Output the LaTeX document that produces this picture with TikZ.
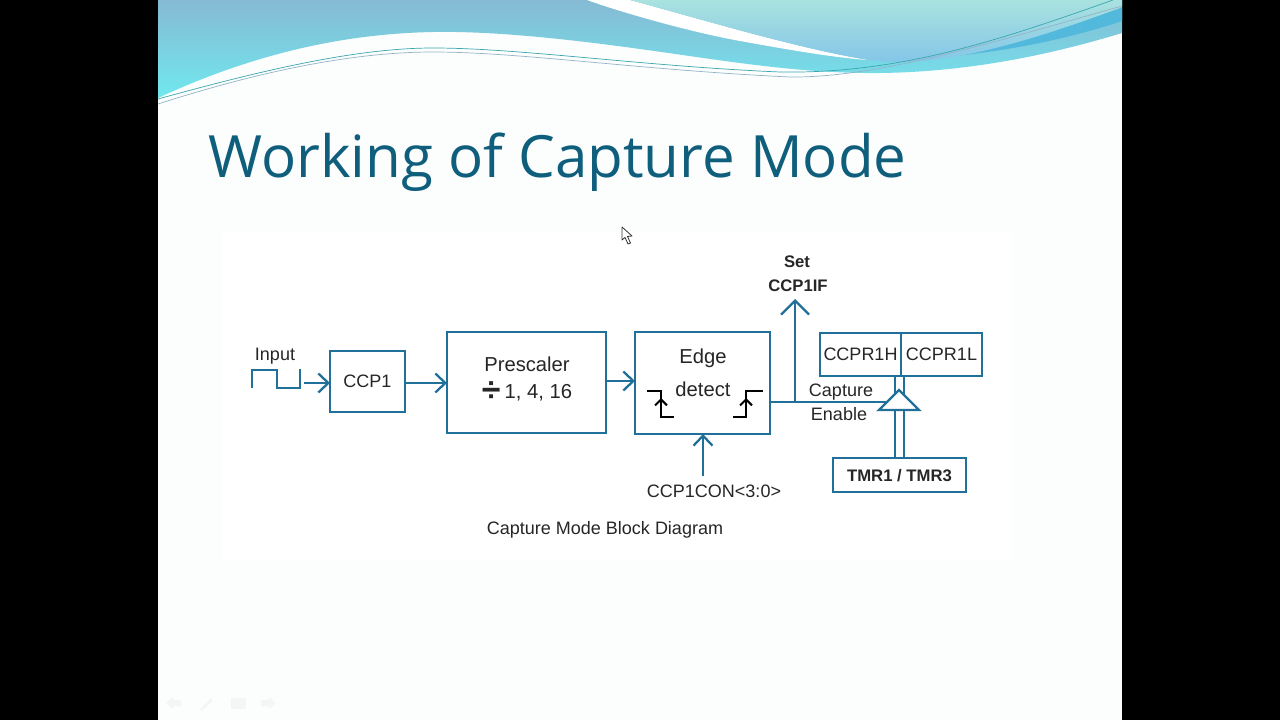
\documentclass[tikz,border=0pt]{standalone}
\usepackage{fontspec}
\setmainfont{Liberation Sans}
\newfontfamily\titlefont{Open Sans}
\usetikzlibrary{arrows.meta}
\definecolor{wireblue}{HTML}{20709A}
\definecolor{inkgrey}{HTML}{262626}
\definecolor{titleblue}{HTML}{0F5F7C}
\definecolor{slidewhite}{HTML}{FCFDFD}
\definecolor{swooshtop}{HTML}{86BAD4}
\definecolor{swooshlow}{HTML}{70E8EE}
\definecolor{capetop}{HTML}{A9E2DF}
\definecolor{capelow}{HTML}{84C6E8}
\definecolor{bandblue}{HTML}{52B9DC}
\definecolor{tealline}{HTML}{3AA6AE}
\definecolor{steelline}{HTML}{93B4C6}
\tikzset{
  blockbox/.style={draw=wireblue, line width=2.3pt, inner sep=0pt, outer sep=0pt, text=inkgrey, font=\fontsize{18}{21}\selectfont},
  plaintext/.style={inner sep=0pt, text=inkgrey, font=\fontsize{18}{21}\selectfont},
  boldtext/.style={inner sep=0pt, text=inkgrey, font=\fontsize{16.7}{20}\selectfont\bfseries},
  wire/.style={wireblue, line width=2.3pt},
  flow/.style={wire, -{Straight Barb[length=10pt, width=19pt, line width=2.3pt]}},
  bigflow/.style={wire, -{Straight Barb[length=14pt, width=28pt, line width=2.3pt]}},
  edgemark/.style={black, line width=2pt},
  edgeflow/.style={edgemark, -{Straight Barb[length=6pt, width=12pt, line width=2pt]}},
  navicon/.style={fill=black!4, draw=none}
}
\begin{document}
\begin{tikzpicture}[x=1pt, y=-1pt]
\useasboundingbox (0,0) rectangle (1280,720);
\fill[black] (0,0) rectangle (1280,720);
\fill[slidewhite] (158,0) rectangle (1122,720);
\fill[white] (222,232) rectangle (1012,560);
% header
\shade[top color=swooshtop, bottom color=swooshlow] (158,0) -- (1122,0) -- (1122,33)
  .. controls (1040,58) and (960,72) .. (880,73) .. controls (800,74) and (720,60) .. (640,49)
  .. controls (560,38) and (490,31) .. (433,32) .. controls (330,34) and (240,60) .. (158,98) -- cycle;
\fill[white] (587,0) .. controls (620,12) and (690,32) .. (740,41) .. controls (790,50) and (830,57) .. (867,60)
  -- (857,58) .. controls (790,46) and (700,19) .. (630,0) -- cycle;
\fill[bandblue] (880,61) .. controls (980,58) and (1060,28) .. (1122,8) -- (1122,21)
  .. controls (1050,45) and (970,58) .. (880,61) -- cycle;
\shade[top color=capetop, bottom color=capelow] (630,0) -- (1122,0) -- (1122,7)
  .. controls (1040,38) and (960,62) .. (900,62) .. controls (885,62) and (870,60) .. (857,58)
  .. controls (790,46) and (700,19) .. (630,0) -- cycle;
\draw[tealline, line width=0.7pt] (158,99) .. controls (270,68) and (360,48) .. (433,48)
  .. controls (520,48) and (640,66) .. (780,72) .. controls (900,74) and (1000,40) .. (1113,0);
\draw[steelline, line width=0.7pt] (158,104) .. controls (270,68) and (360,52) .. (433,52)
  .. controls (520,52) and (640,70) .. (790,77) .. controls (880,78) and (1000,40) .. (1122,6);
% title
\node[text=titleblue, inner sep=0pt, anchor=base west, font=\titlefont\fontsize{58.3}{60}\selectfont] (slidetitle) at (208,177) {Working of Capture Mode};
% blocks
\node[blockbox, minimum width=75pt, minimum height=61pt] (ccp1) at (367.5,381.5) {CCP1};
\node[blockbox, minimum width=159pt, minimum height=101pt] (prescaler) at (526.5,382.5) {};
\node[blockbox, minimum width=135pt, minimum height=102pt] (edgebox) at (702.5,383) {};
\node[blockbox, minimum width=81pt, minimum height=43pt] (ccprh) at (860.5,354.5) {CCPR1H};
\node[blockbox, minimum width=81pt, minimum height=43pt] (ccprl) at (941.5,354.5) {CCPR1L};
\node[blockbox, minimum width=133pt, minimum height=34pt, text depth=0pt, font=\fontsize{16.7}{20}\selectfont\bfseries] (tmr) at (899.5,475) {TMR1 / TMR3};
% labels
\node[plaintext] (inputlabel) at (275,356.5) {Input};
\node[plaintext, font=\fontsize{20.2}{24}\selectfont] (prelabel) at (527,364) {Prescaler};
\node[plaintext, anchor=base, font=\fontsize{20.2}{24}\selectfont] (divlabel) at (527,398) {{\fontsize{34}{24}\selectfont\bfseries\raisebox{-3pt}{÷}}\hspace{4pt}1, 4, 16};
\node[plaintext, font=\fontsize{20.2}{24}\selectfont] (edgelabel) at (703,358) {Edge};
\node[plaintext, font=\fontsize{20.2}{24}\selectfont] (detectlabel) at (703,389) {detect};
\node[boldtext] (setlabel) at (797,261.5) {Set};
\node[boldtext] (iflabel) at (798,285.5) {CCP1IF};
\node[plaintext] (capturelabel) at (841,392.5) {Capture};
\node[plaintext] (enablelabel) at (839,414.5) {Enable};
\node[plaintext] (conlabel) at (714,491) {CCP1CON<3:0>};
\node[plaintext] (captionlabel) at (605,530) {Capture Mode Block Diagram};
% free ends
\coordinate (inputend) at (304,383);
\coordinate (edgein) at (620,381);
\coordinate (conend) at (703,476);
\coordinate (setjoin) at (795,402);
\coordinate (setend) at (795,299);
\coordinate (gatetop) at (899,390);
\coordinate (gateleft) at (879,410);
\coordinate (gateright) at (919,410);
\coordinate (gatein) at (886,402);
% connectors
\draw[flow] (inputend) -- (ccp1.west |- inputend);
\draw[flow] (ccp1.east |- inputend) -- (prescaler.west |- inputend);
\draw[flow] (prescaler.east |- edgein) -- (edgebox.west |- edgein);
\draw[flow] (conend) -- (edgebox.south -| conend);
\draw[wire] (edgebox.east |- gatein) -- (gatein);
\draw[bigflow] (setjoin) -- (setend);
\foreach \lineoff in {-4.5,4.5}
  \draw[wire] ([xshift=\lineoff]tmr.north) -- ([xshift=\lineoff]tmr.north |- ccprh.south);
\draw[wire, fill=white, line join=miter] (gatetop) -- (gateright) -- (gateleft) -- cycle;
% input pulse
\draw[wire] (252,388) -- (252,370) -- (277,370) -- (277,388) -- (300,388) -- (300,369);
% edge marks
\draw[edgemark] (647,391) -- (661,391) -- (661,417) -- (674,417);
\draw[edgemark] (733,417) -- (746,417) -- (746,391) -- (763,391);
\draw[edgeflow] (661,410) -- (661,398);
\draw[edgeflow] (746,410) -- (746,398);
% pointer
\draw[fill=white, draw=black!80, line width=0.8pt, line join=round] (622,227) -- (622,240) -- (625,237.5) -- (628,244) -- (630.5,243) -- (627.5,236.5) -- (632,236) -- cycle;
% slide controls
\fill[navicon] (166,703) -- (173,697) -- (173,700) -- (181,700) -- (181,706) -- (173,706) -- (173,709) -- cycle;
\fill[navicon] (199,710) -- (211,698) -- (213,700) -- (203,710) -- cycle;
\fill[navicon] (231,698) rectangle (246,709);
\fill[navicon] (276,703) -- (269,697) -- (269,700) -- (261,700) -- (261,706) -- (269,706) -- (269,709) -- cycle;
\end{tikzpicture}
\end{document}
